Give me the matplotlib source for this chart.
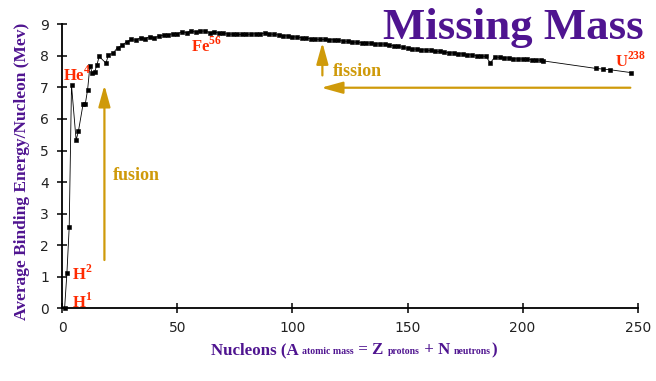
import matplotlib
matplotlib.use("Agg")
import matplotlib.pyplot as plt
from matplotlib.offsetbox import TextArea, HPacker, AnchoredOffsetbox

# ---------------- data ----------------
nucleons = [1, 2, 3, 4, 6, 7, 9, 10, 11, 12, 13, 14, 15, 16, 19,
            20, 22, 24, 26, 28, 30, 32, 34, 36, 38, 40, 42, 44, 46, 48, 50,
            52, 54, 56, 58, 60, 62, 64, 66, 68, 70, 72, 74, 76, 78, 80,
            82, 84, 86, 88, 90, 92, 94, 96, 98, 100, 102, 104, 106, 108, 110,
            112, 114, 116, 118, 120, 122, 124, 126, 128, 130, 132, 134, 136, 138, 140,
            142, 144, 146, 148, 150, 152, 154, 156, 158, 160, 162, 164, 166, 168, 170,
            172, 174, 176, 178, 180, 182, 184, 186, 188, 190, 192, 194, 196, 198, 200,
            202, 204, 206, 208, 209, 232, 235, 238, 247]
binding = [0.00, 1.11, 2.57, 7.07, 5.33, 5.61, 6.46, 6.48, 6.93, 7.68, 7.47, 7.48, 7.70, 7.98, 7.77,
           8.03, 8.08, 8.26, 8.33, 8.45, 8.52, 8.49, 8.58, 8.55, 8.61, 8.58, 8.62, 8.66, 8.67, 8.70, 8.70,
           8.76, 8.74, 8.79, 8.75, 8.78, 8.79, 8.74, 8.76, 8.72, 8.71, 8.69, 8.69, 8.68, 8.68, 8.68,
           8.69, 8.70, 8.70, 8.72, 8.70, 8.68, 8.66, 8.64, 8.63, 8.61, 8.59, 8.58, 8.56, 8.54, 8.53,
           8.52, 8.52, 8.51, 8.51, 8.49, 8.47, 8.46, 8.44, 8.43, 8.42, 8.41, 8.40, 8.38, 8.38, 8.37,
           8.34, 8.32, 8.30, 8.27, 8.24, 8.22, 8.21, 8.20, 8.18, 8.17, 8.15, 8.14, 8.12, 8.10, 8.09,
           8.07, 8.06, 8.04, 8.03, 8.01, 8.00, 7.98, 7.78, 7.97, 7.95, 7.94, 7.93, 7.91, 7.90, 7.90,
           7.89, 7.88, 7.87, 7.86, 7.84, 7.60, 7.58, 7.56, 7.47]

xticks = [0, 50, 100, 150, 200, 250]
yticks = [0, 1, 2, 3, 4, 5, 6, 7, 8, 9]

isotope_labels = [("H", "1", 4.1, 0.03), ("H", "2", 4.1, 0.92), ("He", "4", 0.1, 7.22),
                  ("Fe", "56", 55.8, 8.12), ("U", "238", 240.0, 7.65)]

# ---------------- style ----------------
PURPLE = "#4f1490"
RED = "#ff2a00"
GOLD = "#cf9a0a"
SERIF = "Liberation Serif"

plt.rcParams["mathtext.fontset"] = "custom"
plt.rcParams["mathtext.rm"] = "Liberation Serif:bold"
plt.rcParams["mathtext.bf"] = "Liberation Serif:bold"

fig = plt.figure(figsize=(6.56, 3.81), dpi=100)
ax = fig.add_axes([62.3 / 656, 1 - 308.3 / 381, (637.7 - 62.3) / 656, (308.3 - 24.3) / 381])

ax.plot(nucleons, binding, color="black", lw=0.6, marker="s", ms=2.7,
        mfc="black", mec="black", mew=0.4, clip_on=False, zorder=3)

ax.set_xlim(0, 250)
ax.set_ylim(0, 9)
ax.set_xticks(xticks)
ax.set_yticks(yticks)
for s in ["top", "right"]:
    ax.spines[s].set_visible(False)
for s in ["left", "bottom"]:
    ax.spines[s].set_linewidth(1.3)
    ax.spines[s].set_color("black")
ax.tick_params(direction="inout", length=7, width=1.1, labelsize=10,
               labelcolor="#222222", pad=6)
for lab in ax.get_xticklabels() + ax.get_yticklabels():
    lab.set_family("DejaVu Sans")

# title
fig.text(383 / 656, 1 - 39.5 / 381, "Missing Mass", family=SERIF, weight="bold",
         fontsize=32.3, color=PURPLE, ha="left", va="baseline")

# y label
fig.text(22 / 656, 1 - 171.5 / 381, "Average Binding Energy/Nucleon (Mev)",
         family=SERIF, weight="bold", fontsize=12.5, color=PURPLE,
         rotation=90, ha="center", va="center")

# x label with small inline words
parts = [("Nucleons (A ", 12.2), ("atomic mass", 7), (" = Z ", 12.2), ("protons", 7),
         (" + N ", 12.2), ("neutrons", 7), (")", 12.2)]
areas = [TextArea(t, textprops=dict(fontsize=fs, family=SERIF, weight="bold", color=PURPLE))
         for t, fs in parts]
pack = HPacker(children=areas, align="baseline", pad=0, sep=0)
anch = AnchoredOffsetbox(loc="center", child=pack, pad=0, borderpad=0, frameon=False,
                         bbox_to_anchor=(354 / 656, 1 - 350 / 381),
                         bbox_transform=fig.transFigure)
fig.add_artist(anch)

# isotope labels
for base, sup, x, y in isotope_labels:
    ax.text(x, y, base + r"$^{\mathrm{" + sup + "}}$", family=SERIF, weight="bold",
            fontsize=12, color=RED, ha="left", va="baseline", zorder=4)

# arrows
arrow_kw = dict(arrowstyle="-|>,head_length=0.65,head_width=0.18", color=GOLD,
                lw=1.6, mutation_scale=20, shrinkA=0, shrinkB=0)
ax.annotate("", xy=(18.3, 7.07), xytext=(18.3, 1.53), arrowprops=arrow_kw)
ax.annotate("", xy=(113, 8.42), xytext=(113, 7.38), arrowprops=arrow_kw)
ax.annotate("", xy=(112.5, 6.99), xytext=(246.8, 6.99), arrowprops=arrow_kw)

ax.text(21.9, 4.06, "fusion", family=SERIF, weight="bold", fontsize=13,
        color=GOLD, ha="left", va="baseline")
ax.text(117.6, 7.35, "fission", family=SERIF, weight="bold", fontsize=13,
        color=GOLD, ha="left", va="baseline")

fig.savefig("out.png", dpi=100)
